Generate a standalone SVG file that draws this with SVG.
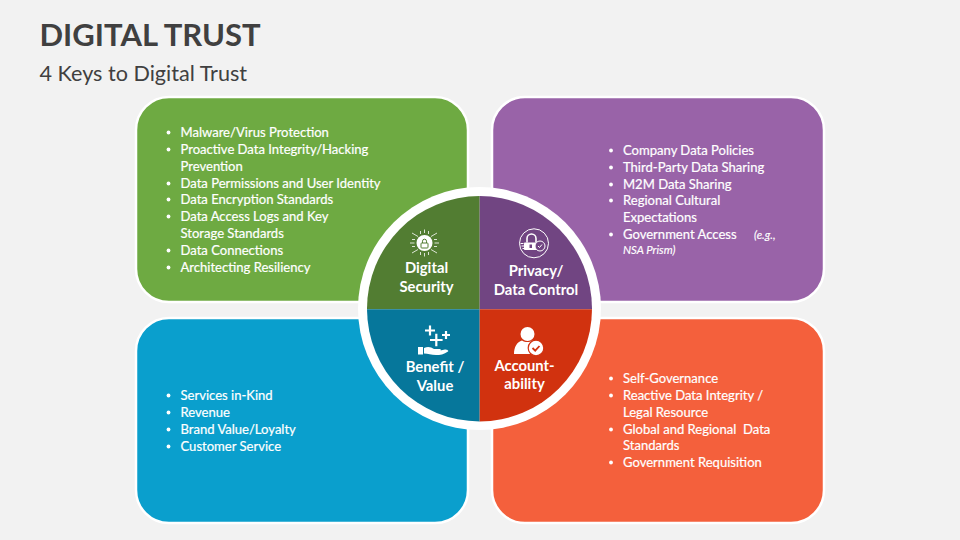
<svg xmlns="http://www.w3.org/2000/svg" width="960" height="540" viewBox="0 0 960 540">
<style>
text{font-family:"Lato","Open Sans","Liberation Sans",sans-serif;white-space:pre}
.card{stroke:#fff;stroke-width:2.5}
.li{font-size:13.05px;fill:#fff;stroke:#fff;stroke-width:.2}
.it{font-size:11.4px;fill:#fff;font-style:italic;stroke:#fff;stroke-width:.15}
.lab{font-size:14.8px;fill:#fff;font-weight:700;text-anchor:middle}
.ln{stroke:#fff;fill:none}
</style>
<defs><circle id="dot" r="1.9" fill="#fff"/></defs>
<rect width="960" height="540" fill="#f2f2f2"/>
<g id="title">
<text x="39.500" y="45.500" font-size="31" font-weight="700" fill="#404040">DIGITAL TRUST</text>
<text x="39.500" y="81" font-size="21.600" fill="#404040">4 Keys to Digital Trust</text>
</g>
<g id="card-security">
<rect class="card" x="136" y="97" width="332" height="205" rx="33" fill="#6eaa42"/>
<use href="#dot" x="168.500" y="132.500"/><text class="li" x="180.500" y="136.500">Malware/Virus Protection</text>
<use href="#dot" x="168.500" y="149.500"/><text class="li" x="180.500" y="153.500">Proactive Data Integrity/Hacking</text>
<text class="li" x="180.500" y="170.500">Prevention</text>
<use href="#dot" x="168.500" y="183.500"/><text class="li" x="180.500" y="187.500">Data Permissions and User Identity</text>
<use href="#dot" x="168.500" y="199.500"/><text class="li" x="180.500" y="203.500">Data Encryption Standards</text>
<use href="#dot" x="168.500" y="216.500"/><text class="li" x="180.500" y="220.500">Data Access Logs and Key</text>
<text class="li" x="180.500" y="237.500">Storage Standards</text>
<use href="#dot" x="168.500" y="250.500"/><text class="li" x="180.500" y="254.500">Data Connections</text>
<use href="#dot" x="168.500" y="267.500"/><text class="li" x="180.500" y="271.500">Architecting Resiliency</text>
</g>
<g id="card-privacy">
<rect class="card" x="492" y="97" width="332" height="205" rx="33" fill="#9963a8"/>
<use href="#dot" x="611" y="150.500"/><text class="li" x="623" y="154.500">Company Data Policies</text>
<use href="#dot" x="611" y="167.500"/><text class="li" x="623" y="171.500">Third-Party Data Sharing</text>
<use href="#dot" x="611" y="184.500"/><text class="li" x="623" y="188.500">M2M Data Sharing</text>
<use href="#dot" x="611" y="200.500"/><text class="li" x="623" y="204.500">Regional Cultural</text>
<text class="li" x="623" y="221.500">Expectations</text>
<use href="#dot" x="611" y="234.500"/><text class="li" x="623" y="238.500">Government Access</text>
<text class="it" x="754" y="238.500">(e.g.,</text>
<text class="it" x="623" y="253.500">NSA Prism)</text>
</g>
<g id="card-benefit">
<rect class="card" x="136" y="318" width="332" height="205" rx="33" fill="#0a9fcd"/>
<use href="#dot" x="168.500" y="395.500"/><text class="li" x="180.500" y="399.500">Services in-Kind</text>
<use href="#dot" x="168.500" y="412.500"/><text class="li" x="180.500" y="416.500">Revenue</text>
<use href="#dot" x="168.500" y="429.500"/><text class="li" x="180.500" y="433.500">Brand Value/Loyalty</text>
<use href="#dot" x="168.500" y="446.500"/><text class="li" x="180.500" y="450.500">Customer Service</text>
</g>
<g id="card-accountability">
<rect class="card" x="492" y="318" width="332" height="205" rx="33" fill="#f4603c"/>
<use href="#dot" x="611" y="378.500"/><text class="li" x="623" y="382.500">Self-Governance</text>
<use href="#dot" x="611" y="395.500"/><text class="li" x="623" y="399.500">Reactive Data Integrity /</text>
<text class="li" x="623" y="416.500">Legal Resource</text>
<use href="#dot" x="611" y="429.500"/><text class="li" x="623" y="433.500">Global and Regional  Data</text>
<text class="li" x="623" y="449.500">Standards</text>
<use href="#dot" x="611" y="462.500"/><text class="li" x="623" y="466.500">Government Requisition</text>
</g>
<circle cx="479.500" cy="308.500" r="121.500" fill="#fff"/>
<g id="key-security">
<path d="M479.700 309.300H367A112.700 112.700 0 0 1 479.700 196Z" fill="#527d32"/>
<g id="icon-security">
<circle cx="424.500" cy="243" r="8" fill="#fff"/>
<rect x="421" y="243" width="7" height="5" rx=".8" fill="none" stroke="#527d32" stroke-width="1"/>
<path d="M422.500 243v-1.800a2 2 0 0 1 4 0V243" fill="none" stroke="#527d32" stroke-width="1"/>
<path class="ln" stroke-width=".8" d="M424.500 229.500v3.500M424.500 253v3.500M410 243h4.500M434.500 243h4.500M412 239.500h3M412 246.500h3M434 239.500h3M434 246.500h3M420.500 231v3M428.500 231v3M420.500 252v3M428.500 252v3M431 236.500l6-3.500M418 236.500l-6-3.500M431 249.500l6 3.500M418 249.500l-6 3.500"/>
</g>
<text class="lab" x="426.500" y="273">Digital</text>
<text class="lab" x="426.500" y="292">Security</text>
</g>
<g id="key-privacy">
<path d="M479.700 309.300V196A112.700 112.700 0 0 1 592 309.300Z" fill="#714582"/>
<g id="icon-privacy">
<circle cx="534" cy="243.300" r="14.500" fill="none" stroke="#fff" stroke-width="1"/>
<path d="M527 242.500v-4a4.500 4.500 0 0 1 9 0v4" fill="none" stroke="#fff" stroke-width="1.600"/>
<rect x="524" y="242.500" width="14" height="7.500" rx=".8" fill="#fff"/>
<rect x="529.500" y="244.500" width="2.500" height="3.500" fill="#714582"/>
<circle cx="540" cy="246" r="5" fill="#714582" stroke="#fff" stroke-width="1"/>
<path class="ln" stroke-width="1" d="M538 246l1.500 1.500 2.500-3M520.500 243.500h3M521.500 246h2.500M522.500 248.500h2"/>
</g>
<text class="lab" x="536" y="276">Privacy/</text>
<text class="lab" x="536" y="295">Data Control</text>
</g>
<g id="key-benefit">
<path d="M367 309.300H479.700V421.500A112.700 112.700 0 0 1 367 309.300Z" fill="#06779b"/>
<g id="icon-benefit">
<path class="ln" stroke-width="2.200" d="M430 325.500v10M425 330.500h10M436.300 333.700v12.600M430 340h12.600M446 331v8M442 335h8"/>
<rect x="418" y="347" width="5" height="7.500" fill="#fff"/>
<path d="M424 348c4-2 7-1 10 1h6c1 0 1 2 0 2h-6 4l7-1.500c2 0 4 1 3 2-4 3-8 3.500-12 3.500-5 0-8-1.500-12-1.500Z" fill="#fff"/>
</g>
<text class="lab" x="435" y="371.500">Benefit /</text>
<text class="lab" x="435" y="390.500">Value</text>
</g>
<g id="key-accountability">
<path d="M479.700 309.300H592A112.700 112.700 0 0 1 479.700 421.500Z" fill="#d1320f"/>
<g id="icon-accountability">
<circle cx="527.500" cy="334" r="7" fill="#fff"/>
<path d="M514 354c0-7 3-12 8-13.500 3 2 8 2 10 0 2 0 4 1 5 2-3 2-6 6-5 11.500Z" fill="#fff"/>
<circle cx="536" cy="348" r="7.800" fill="#fff" stroke="#d1320f" stroke-width="1.200"/>
<path d="M532.500 348l2.700 2.700 4.300-4.700" fill="none" stroke="#d1320f" stroke-width="1.800"/>
</g>
<text class="lab" x="524.500" y="370.500">Account-</text>
<text class="lab" x="524.500" y="389">ability</text>
</g>
</svg>
